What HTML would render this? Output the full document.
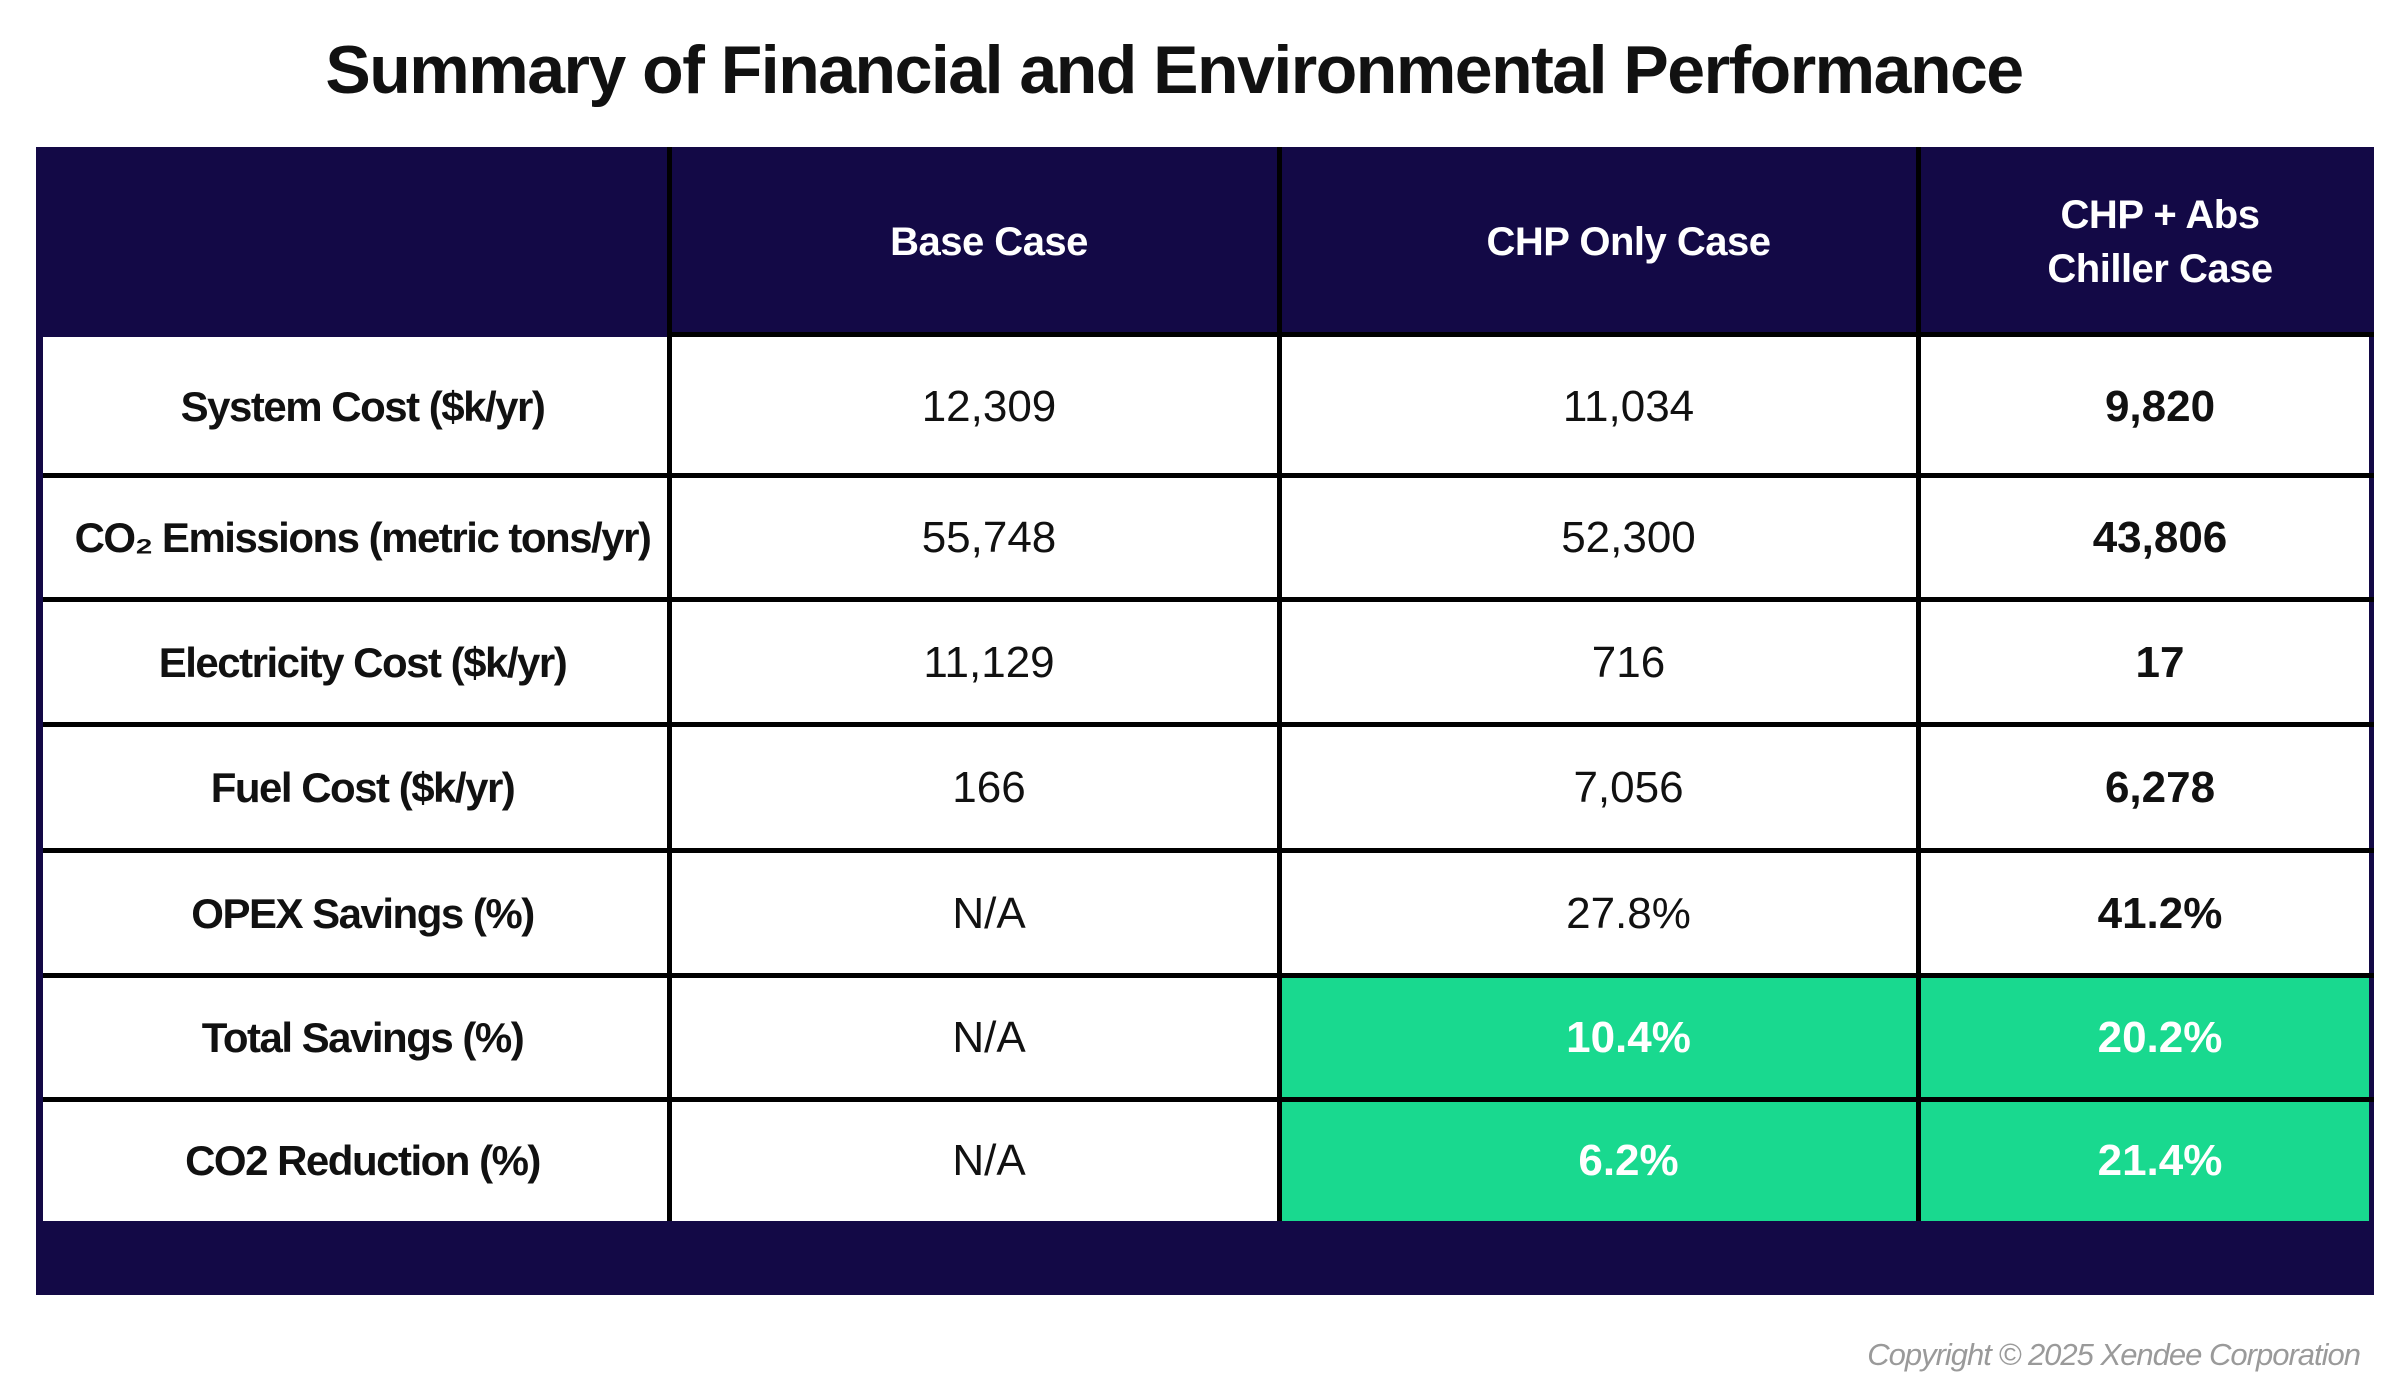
<!DOCTYPE html>
<html><head><meta charset="utf-8"><style>
body{margin:0;width:2400px;height:1400px;background:#fff;position:relative;overflow:hidden;font-family:"Liberation Sans",sans-serif}
.a{position:absolute}
.t{position:absolute;display:flex;align-items:center;justify-content:center;text-align:center}
</style></head><body>
<div class="t" style="left:0;top:30px;width:2348px;height:80px;font-size:68px;font-weight:bold;color:#111;letter-spacing:-1.5px">Summary of Financial and Environmental Performance</div>
<div class="a" style="left:36px;top:147px;width:2338px;height:1148px;background:#130946"></div>
<div class="a" style="left:43px;top:337px;width:2326px;height:884px;background:#fff"></div>
<div id="g"></div>
<div class="t" style="left:1700px;top:1330px;width:660px;height:50px;justify-content:flex-end;font-size:31px;font-style:italic;color:#9a9a9a;letter-spacing:-1px">Copyright © 2025 Xendee Corporation</div>
<script>
const headers=["","Base Case","CHP Only Case","CHP + Abs<br>Chiller Case"];
const rowLabels=["System Cost ($k/yr)","CO₂ Emissions (metric tons/yr)","Electricity Cost ($k/yr)","Fuel Cost ($k/yr)","OPEX Savings (%)","Total Savings (%)","CO2 Reduction (%)"];
const baseVals=["12,309","55,748","11,129","166","N/A","N/A","N/A"];
const chpVals=["11,034","52,300","716","7,056","27.8%","10.4%","6.2%"];
const absVals=["9,820","43,806","17","6,278","41.2%","20.2%","21.4%"];
const highlightRows=[5,6];
const colX=[43,670,1280,1919,2369];
const textShift=[6,14,29,16];
const rowY=[337,476,600,725,851,976,1100,1221];
const g=document.getElementById('g');
function add(html,style){const d=document.createElement('div');d.className='t';d.style.cssText=style;d.innerHTML=html;g.appendChild(d);return d;}
function cx(c){return colX[c]+textShift[c];}
highlightRows.forEach(r=>{for(let c=2;c<4;c++){const d=document.createElement('div');d.className='a';


d.style.cssText=`left:${colX[c]}px;top:${rowY[r]}px;width:${colX[c+1]-colX[c]}px;height:${rowY[r+1]-rowY[r]}px;background:#19d98f`;g.appendChild(d);}});
headers.forEach((h,i)=>{if(!h)return;const d=add(h,`left:${cx(i)}px;top:147px;width:${colX[i+1]-colX[i]}px;height:190px;color:#fff;font-weight:bold;font-size:40px;line-height:54px;letter-spacing:-0.5px`);

});
rowLabels.forEach((l,r)=>{
 const y=rowY[r],h=rowY[r+1]-y;
 const hl=highlightRows.includes(r);
 const a=add(l,`left:${cx(0)}px;top:${y}px;width:${colX[1]-colX[0]}px;height:${h}px;font-weight:bold;font-size:42px;color:#111;letter-spacing:-1.5px`);
 
 
 const b=add(baseVals[r],`left:${cx(1)}px;top:${y}px;width:${colX[2]-colX[1]}px;height:${h}px;font-size:44px;color:#111`);
 
 
 const c=add(chpVals[r],`left:${cx(2)}px;top:${y}px;width:${colX[3]-colX[2]}px;height:${h}px;font-size:44px;color:${hl?'#fff':'#111'};font-weight:${hl?'bold':'normal'}`);
 
 
 const e=add(absVals[r],`left:${cx(3)}px;top:${y}px;width:${colX[4]-colX[3]}px;height:${h}px;font-size:44px;font-weight:bold;color:${hl?'#fff':'#111'}`);
 
 
});
for(let c=1;c<4;c++){const d=document.createElement('div');d.className='a';


d.style.cssText=`left:${colX[c]-3}px;top:147px;width:5px;height:${rowY[7]-147}px;background:#000`;g.appendChild(d);}
rowY.slice(1,7).forEach(y=>{const d=document.createElement('div');d.className='a';


d.style.cssText=`left:43px;top:${y-3}px;width:2331px;height:5px;background:#000`;g.appendChild(d);});
const hb=document.createElement('div');hb.className='a';


hb.style.cssText=`left:${colX[1]}px;top:332px;width:${2374-colX[1]}px;height:5px;background:#000`;g.appendChild(hb);
</script>
</body></html>
